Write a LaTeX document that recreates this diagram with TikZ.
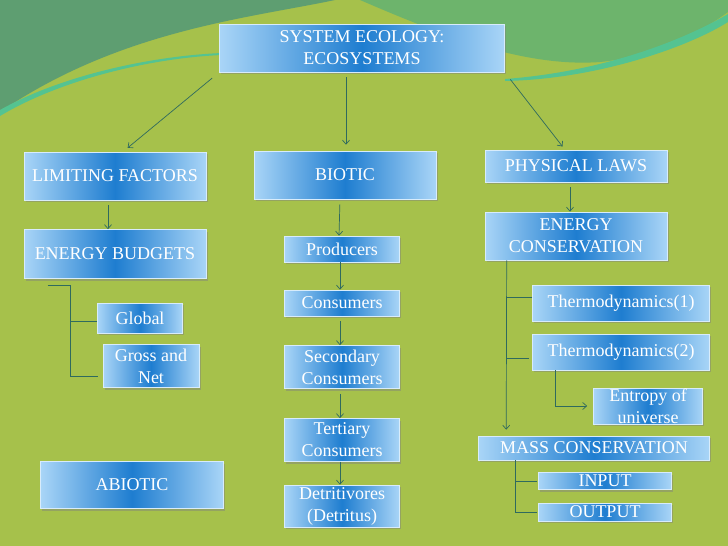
\documentclass[tikz,border=0pt]{standalone}
\usepackage{fontspec}
\setmainfont{Liberation Serif}
\usetikzlibrary{arrows.meta, shadows, calc}

\definecolor{bggreen}{HTML}{A6C14B}
\definecolor{topgreen}{HTML}{5E9E71}
\definecolor{midgreen}{HTML}{6DB46C}
\definecolor{swoosh}{HTML}{3FC3A2}
\definecolor{boxdark}{HTML}{1E7DD0}
\definecolor{boxlight}{HTML}{A9D5F7}
\definecolor{linecol}{HTML}{2F6A5E}

\begin{document}
\begin{tikzpicture}[
    x=1pt, y=-1pt,
    box/.style={rectangle, draw=white!55!boxlight, line width=0.6pt,
                left color=boxlight, right color=boxlight, middle color=boxdark,
                text=white, align=center, inner sep=0pt,
                font=\fontsize{18}{22}\selectfont,
                drop shadow={opacity=0.45, shadow xshift=1.5pt, shadow yshift=-2pt}},
    arrow/.style={-{Straight Barb[length=4pt,width=7pt]}, line width=0.7pt,
                  linecol, shorten <=5pt},
    link/.style={line width=0.7pt, linecol},
]
    % background
    \useasboundingbox (0,0) rectangle (728,546);
    \fill[bggreen] (0,0) rectangle (728,546);
    \fill[topgreen] (0,0) -- (335,0) .. controls (250,18) and (120,30) .. (0,112) -- cycle;
    \fill[midgreen] (360,0) .. controls (430,30) and (520,68) .. (600,62)
        .. controls (660,56) and (700,32) .. (728,12) -- (728,0) -- cycle;
    \fill[swoosh!80!bggreen] (505,79) .. controls (600,72) and (680,42) .. (728,14)
        -- (728,22) .. controls (690,46) and (600,79) .. (505,81) -- cycle;
    \fill[swoosh!80!bggreen] (0,110) .. controls (60,76) and (150,56) .. (222,53)
        -- (222,55) .. controls (150,58) and (60,80) .. (0,116) -- cycle;

    % top
    \node[box, minimum width=285pt, minimum height=48pt] (title) at (362,48) {SYSTEM ECOLOGY:\\ECOSYSTEMS};

    % three branches
    \node[box, minimum width=182pt, minimum height=48pt] (limit) at (115,176) {LIMITING FACTORS};
    \node[box, minimum width=182pt, minimum height=48pt] (biotic) at (345,175) {BIOTIC};
    \node[box, minimum width=182pt, minimum height=32pt] (physical) at (576,166) {PHYSICAL LAWS};

    \draw[arrow, shorten <=9pt, shorten >=6pt] (title.south west) -- ([xshift=8pt]limit.north);
    \draw[arrow] (title.south -| 346,0) -- ([yshift=6pt]biotic.north -| 346,0);
    \draw[arrow, shorten <=9pt, shorten >=4pt] (title.south east) -- ([xshift=-11pt]physical.north);

    % limiting factors
    \node[box, minimum width=182pt, minimum height=49pt] (ebud) at (115,254) {ENERGY BUDGETS};
    \node[box, minimum width=85pt, minimum height=30pt] (global) at (140,318) {Global};
    \node[box, minimum width=96pt, minimum height=43pt] (gross) at (151,366) {Gross and\\Net};
    \node[box, minimum width=183pt, minimum height=47pt] (abiotic) at (132,485) {ABIOTIC};

    \draw[arrow] ([xshift=-7pt]limit.south) -- ([xshift=-7pt]ebud.north);
    \draw[link] ([xshift=24pt,yshift=-7pt]ebud.south west) -- ++(23,0)
        |- ([xshift=-5pt,yshift=-10pt]gross.west);
    \draw[link] ([yshift=-3pt]global.west) -- ++(-26,0);

    % biotic chain
    \node[box, minimum width=115pt, minimum height=26pt] (prod) at (342,249) {Producers};
    \node[box, minimum width=115pt, minimum height=26pt] (cons) at (342,303) {Consumers};
    \node[box, minimum width=115pt, minimum height=43pt] (second) at (342,367) {Secondary\\Consumers};
    \node[box, minimum width=115pt, minimum height=43pt] (tert) at (342,440) {Tertiary\\Consumers};
    \node[box, minimum width=115pt, minimum height=42pt] (detr) at (342,506) {Detritivores\\(Detritus)};

    \draw[arrow] ([xshift=-5pt]biotic.south) -- ([xshift=-3pt]prod.north);
    \draw[arrow, shorten <=0pt] ([xshift=-2pt]prod.south) -- ([xshift=-2pt]cons.north);
    \draw[arrow] ([xshift=-2pt]cons.south) -- ([xshift=-2pt]second.north);
    \draw[arrow] ([xshift=-2pt]second.south) -- ([xshift=-2pt]tert.north);
    \draw[arrow, shorten <=0pt] ([xshift=-2pt]tert.south) -- ([xshift=-2pt]detr.north);

    % physical laws
    \node[box, minimum width=182pt, minimum height=48pt] (econ) at (576,236) {ENERGY\\CONSERVATION};
    \node[box, minimum width=177pt, minimum height=36pt] (thermoa) at (621,303) {Thermodynamics(1)};
    \node[box, minimum width=177pt, minimum height=36pt] (thermob) at (621,352) {Thermodynamics(2)};
    \node[box, minimum width=109pt, minimum height=36pt] (entropy) at (648,406) {Entropy of\\universe};
    \node[box, minimum width=231pt, minimum height=24pt] (mass) at (594,448) {MASS CONSERVATION};
    \node[box, minimum width=133pt, minimum height=17pt] (input) at (605,481) {INPUT};
    \node[box, minimum width=133pt, minimum height=18pt] (output) at (605,512) {OUTPUT};

    \draw[arrow] ([xshift=-6pt]physical.south) -- ([xshift=-6pt]econ.north);
    \draw[arrow, shorten <=0pt] ([xshift=22pt]econ.south west) -- ([xshift=28pt,yshift=6pt]mass.north west);
    \draw[link] ([yshift=6pt]thermoa.west) -- ++(-26,0);
    \draw[link] ([xshift=-3pt,yshift=-6pt]thermob.west) -- ++(-23,0);
    \draw[arrow, shorten <=0pt, shorten >=6pt] ([xshift=23pt]thermob.south west) |- (entropy.west);
    \draw[link] ([xshift=37pt]mass.south west) |- ([xshift=-1pt]output.west);
    \draw[link] ([xshift=-1pt]input.west) -- ++(-22,0);
\end{tikzpicture}
\end{document}
